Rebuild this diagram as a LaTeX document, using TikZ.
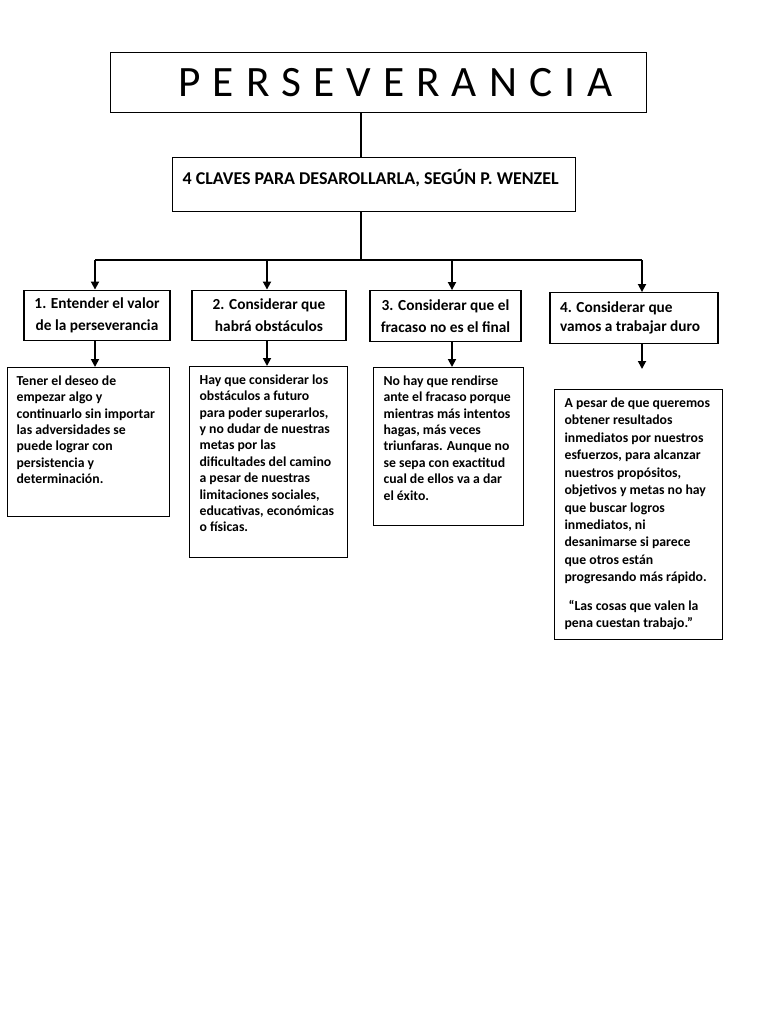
\documentclass[tikz,border=0pt]{standalone}
\usepackage{fontspec}
\setmainfont{Carlito}
\usetikzlibrary{arrows.meta}

\begin{document}
\begin{tikzpicture}[x=0.75pt,y=-0.75pt,
  box/.style={draw,line width=0.9pt},
  key/.style={box,inner sep=0pt,font=\bfseries\fontsize{11.5}{16.5}\selectfont,align=center,minimum height=38pt},
  txt/.style={box,anchor=north west,inner xsep=7.5pt,inner ysep=6pt,font=\bfseries\fontsize{10.3}{12.3}\selectfont},
  link/.style={line width=1.3pt},
  >={Triangle[length=6pt,width=6pt]}]
\fill[white] (0,0) rectangle (768,1024);
\useasboundingbox (0,0) rectangle (768,1024);

% Title and heading
\node[box,anchor=north west,inner sep=0pt,minimum width=402pt,minimum height=45pt,text width=402pt,align=flush left,
  font=\fontsize{32.5}{36}\selectfont] (title) at (110,52)
  {\spaceskip=9pt\relax\hspace*{51pt}P E R S E V E R A N C I A};
\node[box,anchor=north west,inner xsep=7.5pt,inner ysep=0pt,text width=287.25pt,align=flush left,
  text height=20.25pt,text depth=20.25pt,font=\bfseries\fontsize{13.5}{15}\selectfont] (head) at (172,157)
  {4 CLAVES PARA DESAROLLARLA, SEGÚN P. WENZEL};

% The four keys
\node[key,minimum width=109.5pt] (k1) at (97,315.5) {1. Entender el valor\\de la perseverancia};
\node[key,minimum width=115.5pt] (k2) at (269,315.5) {2. Considerar que\\habrá obstáculos};
\node[key,minimum width=113.25pt] (k3) at (445.5,316) {3. Considerar que el\\fracaso no es el final};
\node[key,minimum width=126pt,inner xsep=7.5pt,text width=111pt,align=flush left,
  font=\bfseries\fontsize{11.5}{14.25}\selectfont] (k4) at (634,318)
  {4. Considerar que\\vamos a trabajar duro};

% Explanations
\node[txt,inner xsep=6.75pt] (t1) at (7,367) {\parbox[t][99.75pt][t]{108pt}{%
  Tener el deseo de\\empezar algo y\\continuarlo sin importar\\las adversidades se\\puede lograr con\\persistencia y\\determinación.}};
\node[txt] (t2) at (189,366) {\parbox[t][131.25pt][t]{103.5pt}{%
  Hay que considerar los\\obstáculos a futuro\\para poder superarlos,\\y no dudar de nuestras\\metas por las\\dificultades del camino\\a pesar de nuestras\\limitaciones sociales,\\educativas, económicas\\o físicas.}};
\node[txt] (t3) at (373,367) {\parbox[t][106.5pt][t]{97.5pt}{%
  No hay que rendirse\\ante el fracaso porque\\mientras más intentos\\hagas, más veces\\triunfaras. Aunque no\\se sepa con exactitud\\cual de ellos va a dar\\el éxito.}};
\node[txt,font=\bfseries\fontsize{10.3}{13.1}\selectfont] (t4) at (554,389) {\parbox[t][175.5pt][t]{111pt}{%
  A pesar de que queremos\\obtener resultados\\inmediatos por nuestros\\esfuerzos, para alcanzar\\nuestros propósitos,\\objetivos y metas no hay\\que buscar logros\\inmediatos, ni\\desanimarse si parece\\que otros están\\progresando más rápido.\\[8pt]
  \hspace*{3pt}“Las cosas que valen la\\pena cuestan trabajo.”}};

% Connectors
\coordinate (spine) at (361,260);
\coordinate (d1) at (95,260);
\coordinate (d2) at (267,260);
\coordinate (d3) at (452,260);
\coordinate (d4) at (642,260);
\coordinate (e4) at (642,369);
\draw[link] (spine |- title.south) -- (spine |- head.north);
\draw[link] (spine |- head.south) -- (spine);
\draw[link] (d1) -- (d4);
\foreach \i in {1,...,4}
  \draw[link,->] (d\i) -- (d\i |- k\i.north);
\foreach \i in {1,2,3}
  \draw[link,->] (d\i |- k\i.south) -- (d\i |- t\i.north);
\draw[link,->] (d4 |- k4.south) -- (e4);
\end{tikzpicture}
\end{document}
